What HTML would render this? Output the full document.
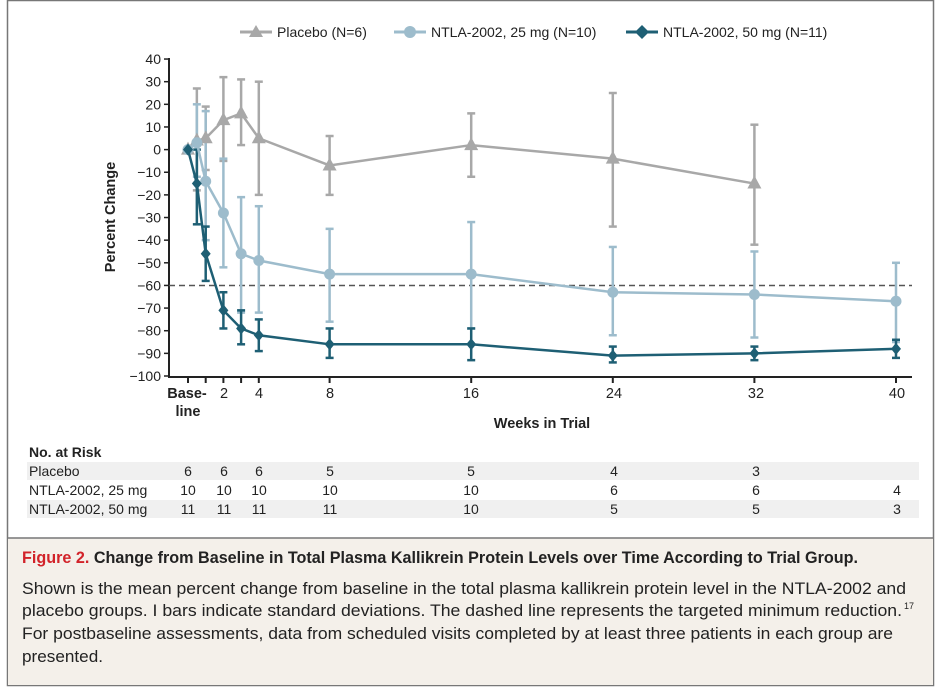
<!DOCTYPE html>
<html><head><meta charset="utf-8"><style>
body{margin:0;background:#fff}
svg{display:block;font-family:"Liberation Sans",sans-serif}
</style></head><body>
<svg width="939" height="688" viewBox="0 0 939 688" xmlns="http://www.w3.org/2000/svg">
<rect x="7.5" y="0.5" width="926" height="685" fill="#fff" stroke="#777" stroke-width="1.5"/>
<rect x="8" y="538" width="925" height="147" fill="#f4f0ea"/>
<line x1="8" y1="538" x2="933" y2="538" stroke="#777" stroke-width="1.5"/>
<g font-size="14" fill="#222">
<line x1="240" y1="32" x2="272" y2="32" stroke="#a8a8a8" stroke-width="3"/>
<polygon points="256,25 263,37 249,37" fill="#a8a8a8"/>
<text x="277" y="37">Placebo (N=6)</text>
<line x1="394" y1="32" x2="426" y2="32" stroke="#9dbccc" stroke-width="3"/>
<circle cx="410" cy="32" r="6" fill="#9dbccc"/>
<text x="431" y="37">NTLA-2002, 25 mg (N=10)</text>
<line x1="626" y1="32" x2="658" y2="32" stroke="#1e5f74" stroke-width="3"/>
<polygon points="642,25 649,32 642,39 635,32" fill="#1e5f74"/>
<text x="663" y="37">NTLA-2002, 50 mg (N=11)</text>
</g>
<g stroke="#222" stroke-width="2">
<line x1="169" y1="58" x2="169" y2="377"/>
<line x1="168" y1="377" x2="912" y2="377"/>
</g>
<g id="yt" font-size="14" fill="#222" text-anchor="end"></g>
<line x1="169" y1="285.5" x2="912" y2="285.5" stroke="#555" stroke-width="1.5" stroke-dasharray="6,4"/>
<g id="xt"></g>
<g id="plot"></g>
<g font-size="14.5" fill="#222" font-weight="bold" text-anchor="middle">
<text x="187" y="398">Base-</text><text x="188" y="416">line</text>
<text x="224" y="398" font-weight="normal">2</text>
<text x="259" y="398" font-weight="normal">4</text>
<text x="330" y="398" font-weight="normal">8</text>
<text x="471" y="398" font-weight="normal">16</text>
<text x="614" y="398" font-weight="normal">24</text>
<text x="756" y="398" font-weight="normal">32</text>
<text x="897" y="398" font-weight="normal">40</text>
<text x="542" y="428">Weeks in Trial</text>
<text transform="translate(115,217) rotate(-90)">Percent Change</text>
</g>
<rect x="27" y="462" width="892" height="18" fill="#f0f0f0"/>
<rect x="27" y="500" width="892" height="18" fill="#f0f0f0"/>
<g font-size="14" fill="#222">
<text x="29" y="457" font-weight="bold">No. at Risk</text>
<text x="29" y="476">Placebo</text>
<text x="29" y="495">NTLA-2002, 25 mg</text>
<text x="29" y="514">NTLA-2002, 50 mg</text>
<g text-anchor="middle">
<text x="188" y="476">6</text><text x="224" y="476">6</text><text x="259" y="476">6</text><text x="330" y="476">5</text><text x="471" y="476">5</text><text x="614" y="476">4</text><text x="756" y="476">3</text>
<text x="188" y="495">10</text><text x="224" y="495">10</text><text x="259" y="495">10</text><text x="330" y="495">10</text><text x="471" y="495">10</text><text x="614" y="495">6</text><text x="756" y="495">6</text><text x="897" y="495">4</text>
<text x="188" y="514">11</text><text x="224" y="514">11</text><text x="259" y="514">11</text><text x="330" y="514">11</text><text x="471" y="514">10</text><text x="614" y="514">5</text><text x="756" y="514">5</text><text x="897" y="514">3</text>
</g></g>
<g font-size="16.5" fill="#222">
<text x="22" y="563" font-weight="bold" textLength="836" lengthAdjust="spacingAndGlyphs"><tspan fill="#d2232a">Figure 2.</tspan> Change from Baseline in Total Plasma Kallikrein Protein Levels over Time According to Trial Group.</text>
<text x="22" y="594" textLength="884" lengthAdjust="spacingAndGlyphs">Shown is the mean percent change from baseline in the total plasma kallikrein protein level in the NTLA-2002 and</text>
<text x="22" y="616" textLength="880" lengthAdjust="spacingAndGlyphs">placebo groups. I bars indicate standard deviations. The dashed line represents the targeted minimum reduction.</text>
<text x="904" y="609" font-size="9">17</text>
<text x="22" y="639" textLength="871" lengthAdjust="spacingAndGlyphs">For postbaseline assessments, data from scheduled visits completed by at least three patients in each group are</text>
<text x="22" y="662" textLength="81" lengthAdjust="spacingAndGlyphs">presented.</text>
</g>
</svg>
<script>
const NS="http://www.w3.org/2000/svg";
const X=w=>188+17.7*w, Y=v=>149.6-2.264*v;
function el(p,t,a,txt){const e=document.createElementNS(NS,t);for(const k in a)e.setAttribute(k,a[k]);if(txt!=null)e.textContent=txt;document.getElementById(p).appendChild(e);return e;}
for(let v=40;v>=-100;v-=10){el("yt","line",{x1:164,x2:169,y1:Y(v),y2:Y(v),stroke:"#222","stroke-width":1.5});el("yt","text",{x:161,y:Y(v)+5},v<0?"\u2212"+(-v):String(v));}
[0,1,2,3,4,8,16,24,32,40].forEach(w=>el("xt","line",{x1:X(w),x2:X(w),y1:377,y2:383,stroke:"#222","stroke-width":2}));
const S=[
{c:"#a8a8a8",m:"t",d:[[0,0],[0.5,4,27,-18],[1,5,19,-9],[2,13,32,-5],[3,16,31,2],[4,5,30,-20],[8,-7,6,-20],[16,2,16,-12],[24,-4,25,-34],[32,-15,11,-42]]},
{c:"#9dbccc",m:"c",d:[[0,0],[0.5,3,20,-12],[1,-14,17,-40],[2,-28,-4,-52],[3,-46,-21,-72],[4,-49,-25,-72],[8,-55,-35,-76],[16,-55,-32,-79],[24,-63,-43,-82],[32,-64,-45,-83],[40,-67,-50,-85]]},
{c:"#1e5f74",m:"d",d:[[0,0],[0.5,-15,0,-33],[1,-46,-34,-58],[2,-71,-63,-79],[3,-79,-71,-86],[4,-82,-75,-89],[8,-86,-79,-92],[16,-86,-79,-93],[24,-91,-87,-94],[32,-90,-87,-93],[40,-88,-84,-92]]}];
S.forEach(s=>{s.d.forEach(p=>{if(p.length>2){const x=X(p[0]);el("plot","line",{x1:x,x2:x,y1:Y(p[2]),y2:Y(p[3]),stroke:s.c,"stroke-width":2.5});[p[2],p[3]].forEach(v=>el("plot","line",{x1:x-4,x2:x+4,y1:Y(v),y2:Y(v),stroke:s.c,"stroke-width":2.5}));}});});
S.forEach(s=>{el("plot","polyline",{points:s.d.map(p=>X(p[0])+","+Y(p[1])).join(" "),fill:"none",stroke:s.c,"stroke-width":2.5});
s.d.forEach(p=>{const x=X(p[0]),y=Y(p[1]);if(s.m=="t")el("plot","polygon",{points:`${x},${y-8} ${x+7},${y+5} ${x-7},${y+5}`,fill:s.c});else if(s.m=="c")el("plot","circle",{cx:x,cy:y,r:5.5,fill:s.c});else el("plot","polygon",{points:`${x},${y-6} ${x+5},${y} ${x},${y+6} ${x-5},${y}`,fill:s.c});});});
</script>
</body></html>
